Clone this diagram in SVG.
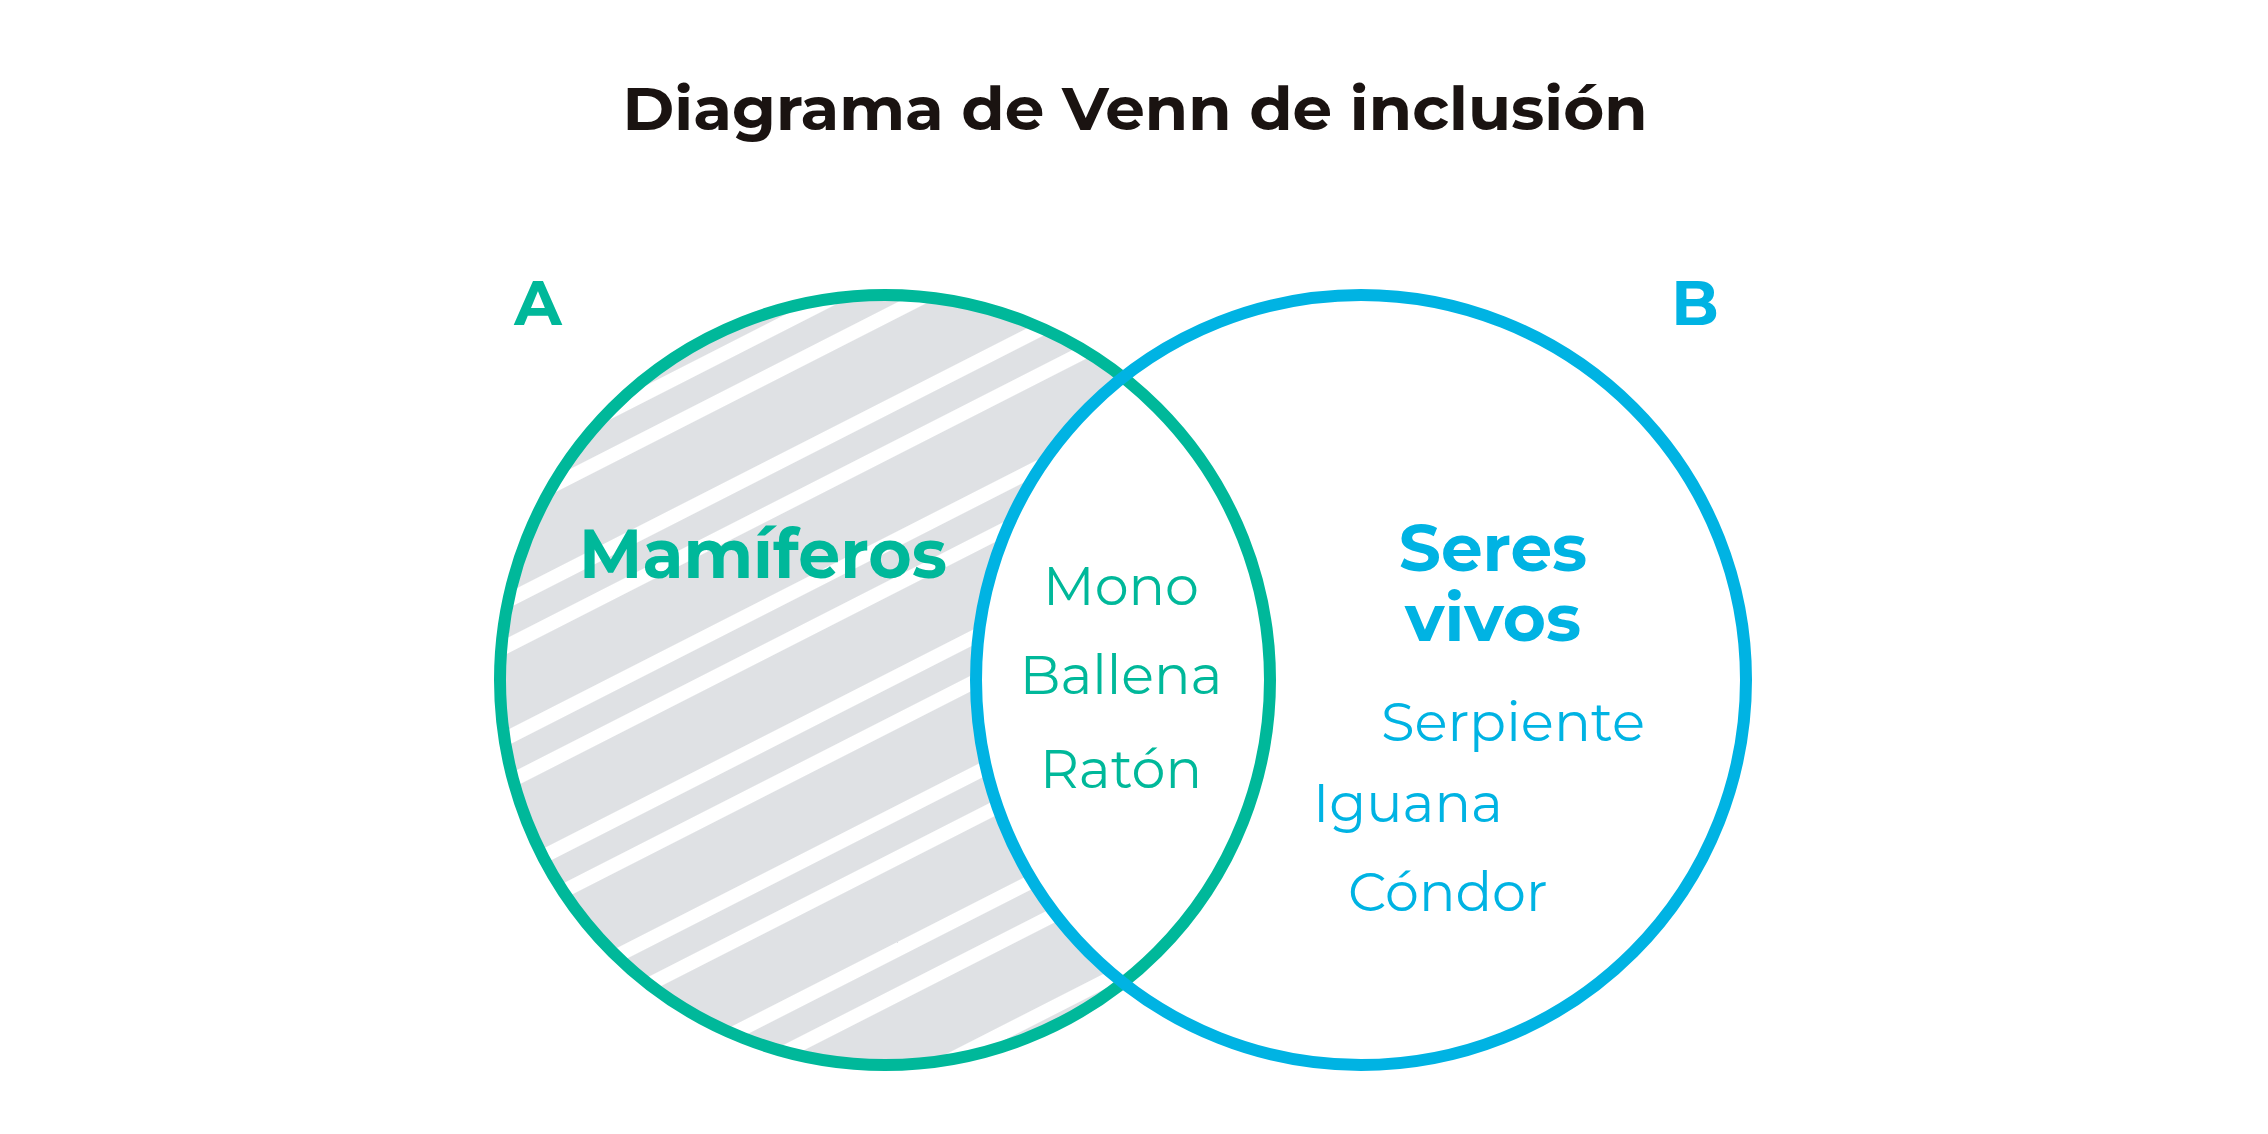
<svg xmlns="http://www.w3.org/2000/svg" width="2268" height="1134" viewBox="0 0 2268 1134">
<style>
.t{font-family:"Montserrat","Noto Sans","Liberation Sans",sans-serif}
.g{fill:#00b89a}.b{fill:#00b3e3}
.bold{font-weight:700}
</style>
<defs>
<pattern id="st" width="400" height="122" patternUnits="userSpaceOnUse" patternTransform="translate(0,30) rotate(-27)">
<rect width="400" height="122" fill="#dfe1e4"/>
<rect y="0" width="400" height="14" fill="#fff"/>
<rect y="40" width="400" height="14" fill="#fff"/>
</pattern>
<clipPath id="ca"><circle cx="885" cy="680" r="385"/></clipPath>
</defs>
<rect width="2268" height="1134" fill="#fff"/>
<text class="t bold" x="1135" y="130" font-size="60" text-anchor="middle" fill="#1a1311" textLength="1025" lengthAdjust="spacingAndGlyphs">Diagrama de Venn de inclusión</text>
<g id="setA">
<g clip-path="url(#ca)">
<rect x="490" y="280" width="800" height="800" fill="url(#st)"/>
<circle cx="1361" cy="680" r="385" fill="#fff"/>
</g>
<circle cx="885" cy="680" r="385" fill="none" stroke="#00b89a" stroke-width="12"/>
<text class="t bold g" x="538" y="325" font-size="62" text-anchor="middle">A</text>
<text class="t bold g" x="579" y="578" font-size="70" textLength="368" lengthAdjust="spacingAndGlyphs">Mamíferos</text>
</g>
<g id="setB">
<circle cx="1361" cy="680" r="385" fill="none" stroke="#00b3e3" stroke-width="12"/>
<text class="t bold b" x="1695" y="325" font-size="62" text-anchor="middle">B</text>
<text class="t bold b" font-size="66" text-anchor="middle"><tspan x="1493" y="571">Seres</tspan><tspan x="1493" y="641">vivos</tspan></text>
<text class="t b" x="1381" y="741" font-size="54" textLength="264" lengthAdjust="spacingAndGlyphs">Serpiente</text>
<text class="t b" x="1313" y="822" font-size="54">Iguana</text>
<text class="t b" x="1348" y="911" font-size="54">Cóndor</text>
</g>
<g id="intersection">
<text class="t g" x="1121" y="605" font-size="54" text-anchor="middle">Mono</text>
<text class="t g" x="1121" y="694" font-size="54" text-anchor="middle">Ballena</text>
<text class="t g" x="1121" y="788" font-size="54" text-anchor="middle">Ratón</text>
</g>
<g id="connectors"/>
</svg>
